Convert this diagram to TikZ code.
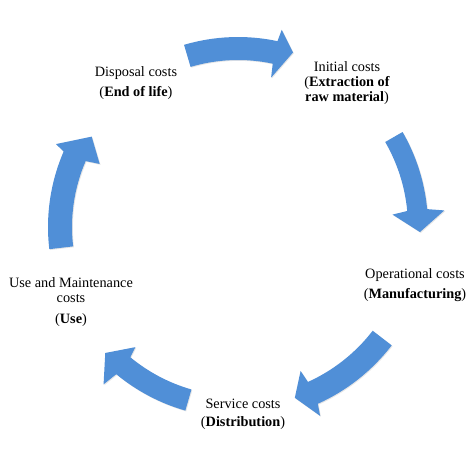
\documentclass[tikz,border=0pt]{standalone}
\usepackage{fontspec}
\setmainfont{Liberation Serif}
\usetikzlibrary{shadows}
\definecolor{arrowblue}{RGB}{80,143,215}

\begin{document}
\begin{tikzpicture}[x=0.7pt, y=-0.7pt,
    cyclearrow/.style={fill=arrowblue, draw=none, drop shadow={opacity=0.2, shadow xshift=0.6pt, shadow yshift=-0.6pt}},
    stage/.style={align=center, font=\fontsize{10}{10.5}\selectfont, inner sep=0pt}]
  \useasboundingbox (0,0) rectangle (474,474);
  % Stage labels
  \node[stage] (disposal) at (136,83) {Disposal costs\\[3.5pt](\textbf{End of life})};
  \node[stage] (initial) at (347,83) {Initial costs\\(\textbf{Extraction of}\\\textbf{raw material})};
  \node[stage] (operational) at (415,285) {Operational costs\\[3.5pt](\textbf{Manufacturing})};
  \node[stage] (service) at (243,414) {Service costs\\[2pt](\textbf{Distribution})};
  \node[stage] (use) at (71,302) {Use and Maintenance\\costs\\[4pt](\textbf{Use})};
  % Curved arrows round the cycle centre
  \begin{scope}[shift={(238,227)}]
    % Top arrow
    \fill[cyclearrow] (-106.5:190) arc[start angle=-106.5, end angle=-78, radius=190] -- (-77.5:202) -- (-72.5:183) -- (-77.5:153) -- (-78:167) arc[start angle=-78, end angle=-106.5, radius=167] -- cycle;
    % Right arrow
    \fill[cyclearrow] (-30:190) arc[start angle=-30, end angle=-5.4, radius=190] -- (-4.6:207) -- (1.6:182) -- (-4.6:155) -- (-5.4:170) arc[start angle=-5.4, end angle=-30, radius=170] -- cycle;
    % Bottom right arrow
    \fill[cyclearrow] (37.6:194) arc[start angle=37.6, end angle=65.7, radius=194] -- (66.5:206) -- (71.6:180) -- (66.5:157) -- (65.7:170) arc[start angle=65.7, end angle=37.6, radius=170] -- cycle;
    % Bottom left arrow
    \fill[cyclearrow] (106:191) arc[start angle=106, end angle=129.6, radius=191] -- (130.5:207) -- (136.5:183) -- (130.5:158) -- (129.6:169) arc[start angle=129.6, end angle=106, radius=169] -- cycle;
    % Left arrow
    \fill[cyclearrow] (173.3:190) arc[start angle=173.3, end angle=203.4, radius=190] -- (204.5:200) -- (211.7:172) -- (204.5:152) -- (203.4:166) arc[start angle=203.4, end angle=173.3, radius=166] -- cycle;
  \end{scope}
\end{tikzpicture}
\end{document}
